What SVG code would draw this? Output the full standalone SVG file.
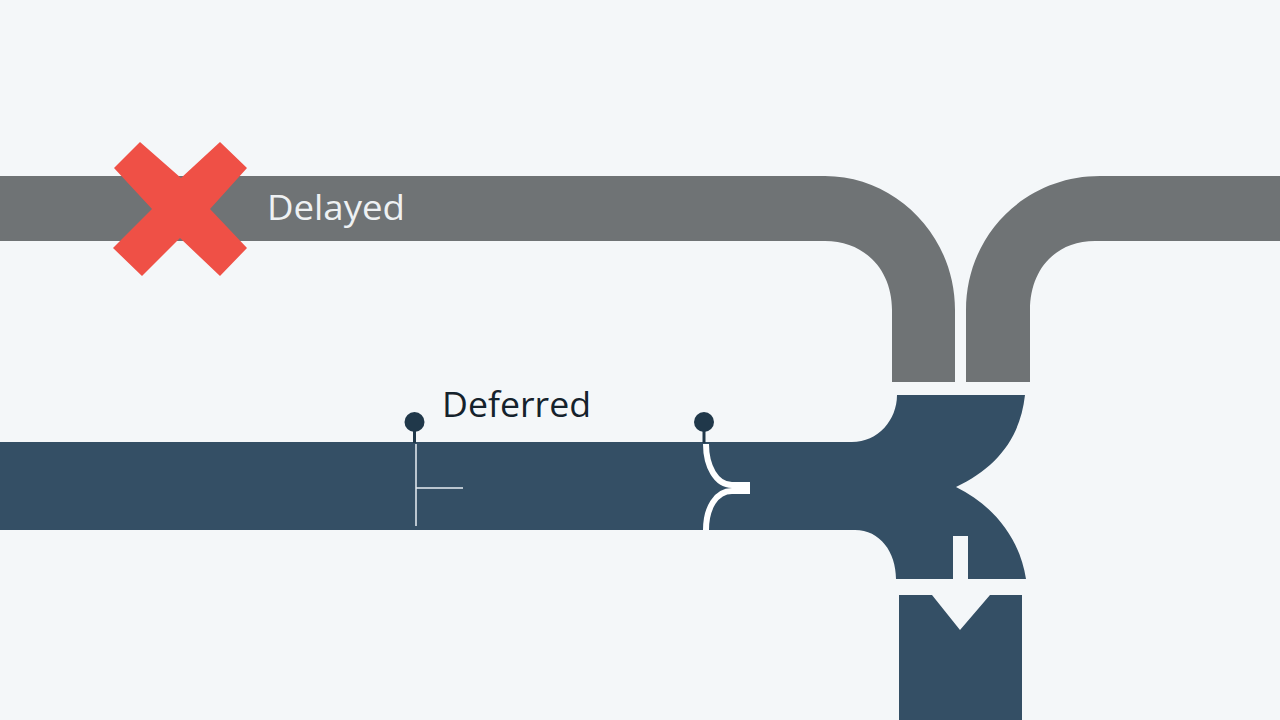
<svg xmlns="http://www.w3.org/2000/svg" width="1280" height="720" viewBox="0 0 1280 720">
<style>
.grey{fill:#6f7375}
.dark{fill:#344f65}
.pin{fill:#20384a}
.stem{stroke:#20384a;stroke-width:3;fill:none}
.wl{stroke:#e6edf2;fill:none}
text{font-family:"Open Sans","Liberation Sans",sans-serif;font-size:35px}
</style>
<rect width="1280" height="720" fill="#f4f7f9"/>
<g id="connectors">
<path id="pipe-delayed" class="grey" d="M0 176H825C895 176 955 235 955 310V382H892V310C892 270 865 241 825 241H0Z"/>
<path id="pipe-right" class="grey" d="M1280 176H1100C1025 176 966 235 966 310V382H1030V310C1030 270 1055 241 1095 241H1280Z"/>
<path id="pipe-deferred" class="dark" d="M0 442H852C878 442 897 420 897 395H1025C1020 440 995 468 956 487C995 506 1020 540 1026 579H968V536H953V579H896C896 552 880 530 855 530H0Z"/>
<path id="pipe-down" class="dark" d="M899 595H932L960 630L990 595H1022V720H899Z"/>
</g>
<g id="node-cross">
<polygon points="140,142 181,178 220,142 247,168 210,209 247,248 220,276 180,238 142,276 113,248 152,209 114,168" fill="#ef5046"/>
</g>
<g id="node-delayed"><text x="267" y="220" fill="#eef1f3" textLength="138" lengthAdjust="spacingAndGlyphs">Delayed</text></g>
<g id="node-deferred"><text x="442" y="417" fill="#15222c" textLength="149" lengthAdjust="spacingAndGlyphs">Deferred</text></g>
<g id="node-pin-left">
<line class="stem" x1="414.500" y1="428" x2="414.500" y2="443"/>
<circle class="pin" cx="414.500" cy="422" r="10"/>
<path class="wl" stroke-width="1.500" d="M416 444V526M416 488H463"/>
</g>
<g id="node-pin-right">
<line class="stem" x1="704" y1="428" x2="704" y2="443"/>
<circle class="pin" cx="704" cy="422" r="10"/>
<path stroke="#ffffff" fill="none" stroke-width="6" d="M706 444C706 466 716 485 732 485H750M706 530C706 508 716 491 732 491H750"/>
</g>
</svg>
